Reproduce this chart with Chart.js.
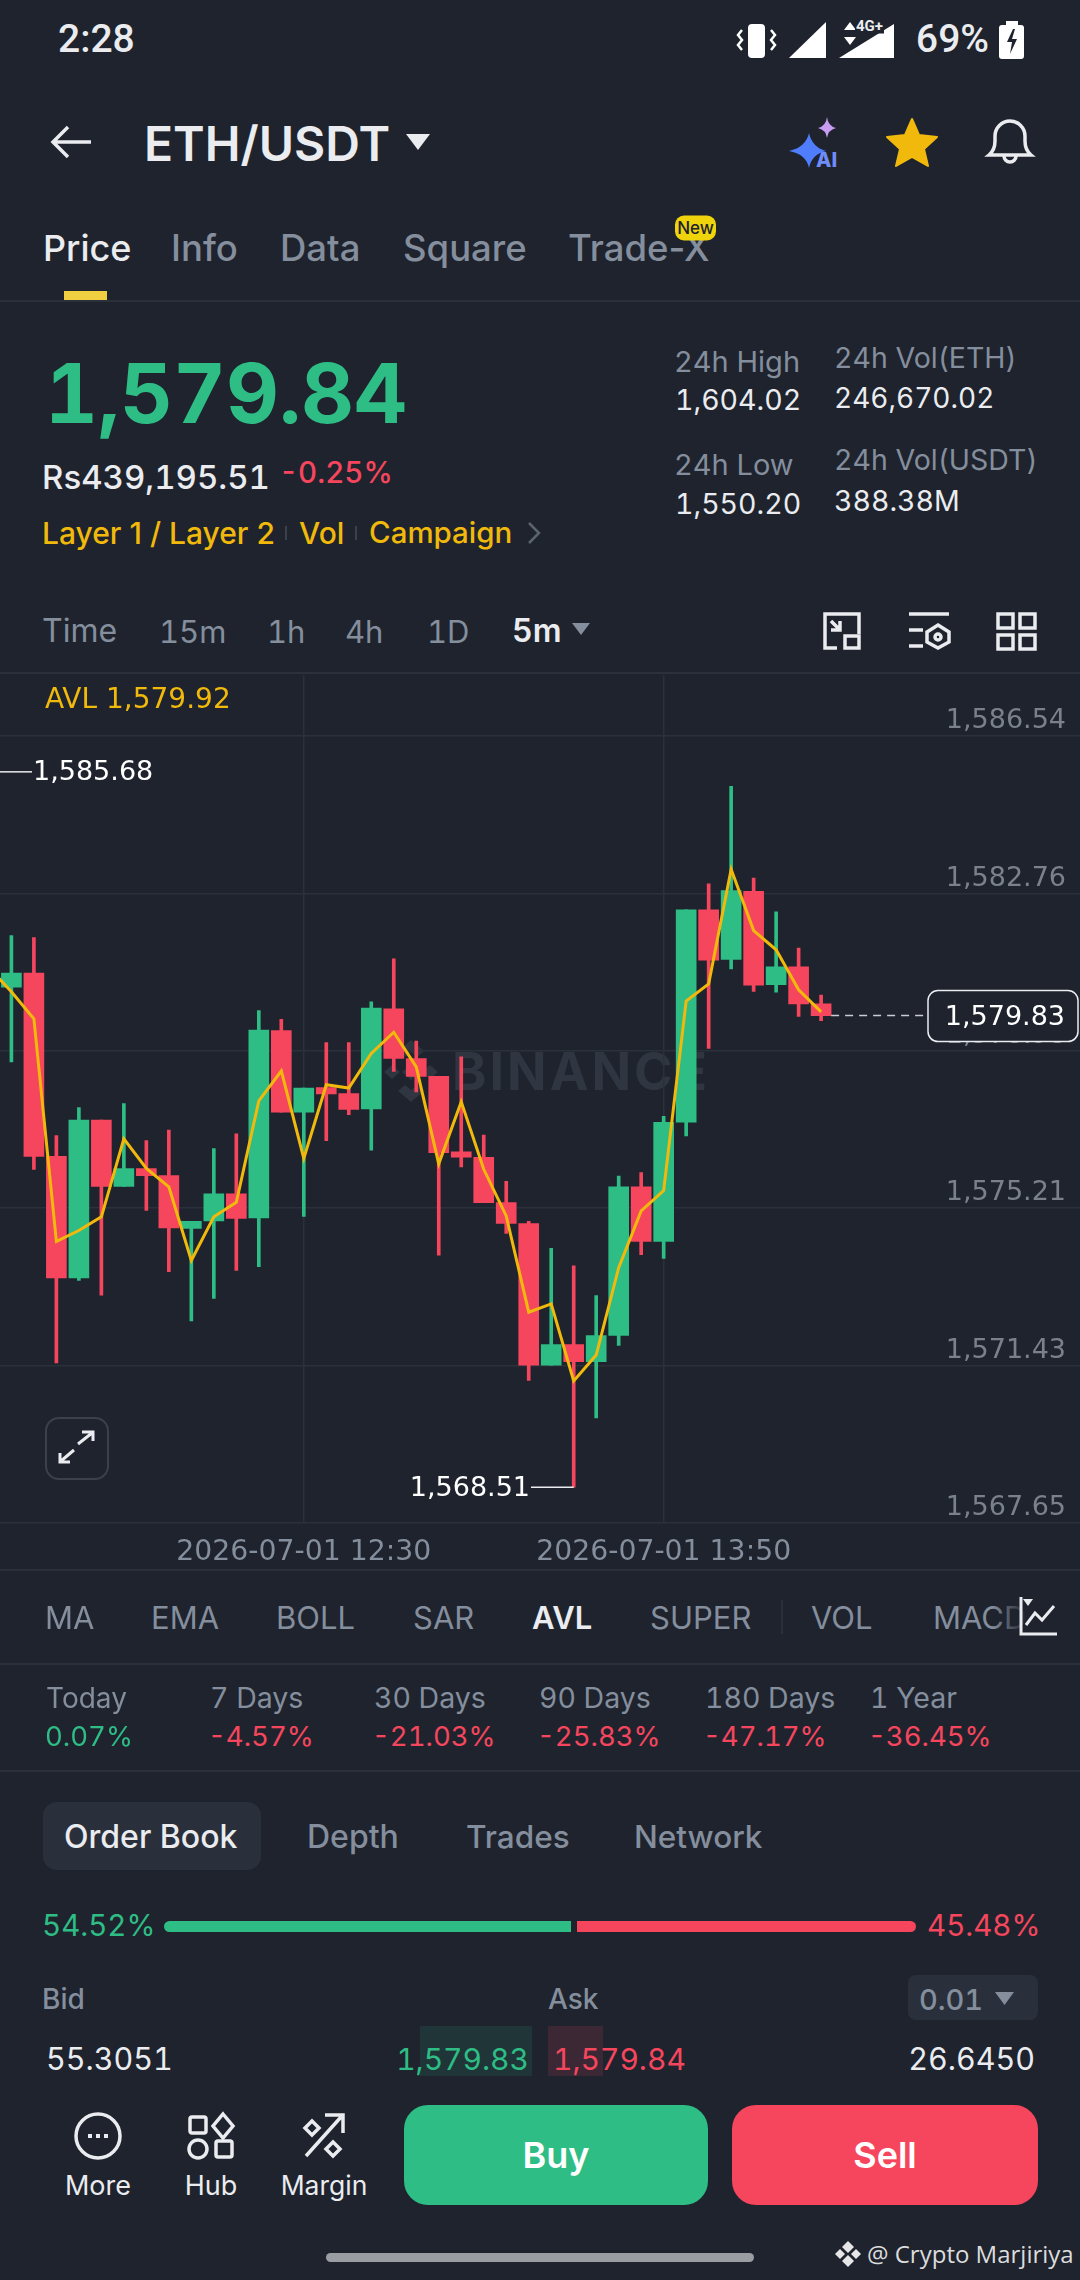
<!DOCTYPE html>
<html>
<head>
<meta charset="utf-8">
<title>ETH/USDT</title>
<script src="https://cdn.jsdelivr.net/npm/chart.js"></script>
<style>
    html, body { margin: 0; background: #1e232e; }
    #app { position: relative; width: 1080px; height: 2280px; overflow: hidden; background: #1e232e; font-family: Inter, "Noto Sans", sans-serif; color: #eaecef; font-variant-numeric: tabular-nums; }
    .t { position: absolute; white-space: nowrap; line-height: 1; transform: translateY(-50%); }
    .r { transform: translate(-100%, -50%); }
    .c { transform: translate(-50%, -50%); }
    .g { color: #848e9c; }
    .up { color: #2ebd85; }
    .dn { color: #f6465d; }
    .y { color: #f0b90b; }
    .m { font-weight: 500; }
    .p { font-variant-numeric: normal; }
    .box { position: absolute; }
    .line { position: absolute; left: 0; width: 1080px; height: 2px; background: #2b313b; }
    svg { position: absolute; overflow: visible; }
    canvas { position: absolute; left: 0; top: 673px; }
</style>
</head>
<body>
<div id="app">
    <!-- status bar -->
    <div class="t m" style="left:58px;top:39px;font-size:39px;font-family:Roboto">2:28</div>
    <svg style="left:737px;top:22px" width="300" height="40" fill="#fff" stroke="none">
        <rect x="11" y="2" width="17" height="34" rx="4"/>
        <path d="M5 8l-4 5 4 5-4 5 4 5M34 8l4 5-4 5 4 5-4 5" fill="none" stroke="#fff" stroke-width="2.5"/>
        <polygon points="52,36 89,36 89,0"/>
        <polygon points="102,36 157,36 157,2"/>
        <polygon points="107,8 113,0 119,8"/><polygon points="107,15 113,23 119,15"/>
    </svg>
    <div class="t" style="left:855px;top:26px;font-size:15px;font-weight:700;font-family:Roboto;background:#1e232e;padding:0 1px">4G+</div>
    <div class="t m" style="left:916px;top:39px;font-size:39px;font-family:Roboto">69%</div>
    <svg style="left:999px;top:21px" width="26" height="38"><rect x="7" y="0" width="12" height="4" fill="#fff"/><rect y="4" width="25" height="34" rx="3" fill="#fff"/><path d="M14 8l-6 13h5l-2 12 7-15h-5l3-10z" fill="#1e232e"/></svg>

    <!-- header -->
    <svg style="left:50px;top:124px" width="42" height="36" fill="none" stroke="#eaecef" stroke-width="3.5"><path d="M41 18H3M18 3L3 18l15 15"/></svg>
    <div class="t" style="left:144px;top:144px;font-size:48px;font-weight:600">ETH/USDT</div>
    <svg style="left:406px;top:134px" width="24" height="16"><polygon points="0,0 24,0 12,16" fill="#eaecef"/></svg>
    <svg style="left:789px;top:117px" width="52" height="52">
        <path d="M20 16q3 14 17 18q-14 3-17 17q-3-14-20-17q17-4 20-18z" fill="#4f7dfb"/>
        <path d="M38 0q1 9 9 11q-8 2-9 10q-1-8-9-10q8-2 9-11z" fill="#c79cf2"/>
        <text x="27" y="50" font-size="20" font-weight="800" fill="#6f8cf7" font-family="Inter">AI</text>
    </svg>
    <svg style="left:887px;top:119px" width="50" height="47"><polygon points="25,0 32,16 50,18 37,30 41,47 25,38 9,47 13,30 0,18 18,16" fill="#f0b90b" stroke="#f0b90b" stroke-width="2" stroke-linejoin="round"/></svg>
    <svg style="left:987px;top:118px" width="46" height="48" fill="none" stroke="#eaecef" stroke-width="3.5"><path d="M2 37q6-5 6-14V18a15 15 0 0 1 30 0v5q0 9 6 14z"/><path d="M17 38a6 6 0 0 0 12 0"/></svg>

    <!-- tabs -->
    <div class="t m" style="left:43px;top:248px;font-size:36px">Price</div>
    <div class="t g m" style="left:171px;top:248px;font-size:36.5px">Info</div>
    <div class="t g m" style="left:280px;top:248px;font-size:36.5px">Data</div>
    <div class="t g m" style="left:403px;top:248px;font-size:36.5px">Square</div>
    <div class="t g m p" style="left:568px;top:248px;font-size:36.5px">Trade-X</div>
    <div class="t" style="left:675px;top:228px;width:41px;height:25px;line-height:25px;border-radius:9px;background:#f0d40b;color:#1e232e;font-size:17px;font-weight:500;text-align:center">New</div>
    <div class="box" style="left:64px;top:291px;width:43px;height:9px;background:#f0d040"></div>
    <div class="line" style="top:300px"></div>

    <!-- price block -->
    <div class="t up" style="left:45px;top:394px;font-size:82px;font-weight:700">1,579.84</div>
    <div class="t m" style="left:42px;top:477px;font-size:33px">Rs439,195.51</div>
    <div class="t dn m" style="left:279px;top:473px;font-size:29.5px">-0.25%</div>
    <div class="t y m p" style="left:42px;top:533px;font-size:30px">Layer 1 / Layer 2</div>
    <div class="t y m" style="left:299px;top:533px;font-size:30px">Vol</div>
    <div class="t y m" style="left:369px;top:533px;font-size:29.5px">Campaign</div>
    <div class="box" style="left:285px;top:526px;width:2px;height:14px;background:#3a414c"></div>
    <div class="box" style="left:355px;top:526px;width:2px;height:14px;background:#3a414c"></div>
    <svg style="left:527px;top:521px" width="14" height="24" fill="none" stroke="#5c6470" stroke-width="2.5"><path d="M2 2l10 10L2 22"/></svg>

    <div class="t g" style="left:674px;top:361px;font-size:29px">24h High</div>
    <div class="t" style="left:675px;top:400px;font-size:28.5px">1,604.02</div>
    <div class="t g" style="left:674px;top:464px;font-size:29px">24h Low</div>
    <div class="t" style="left:675px;top:504px;font-size:28.5px">1,550.20</div>
    <div class="t g" style="left:834px;top:358px;font-size:28.5px">24h Vol(ETH)</div>
    <div class="t" style="left:834px;top:398px;font-size:28px">246,670.02</div>
    <div class="t g" style="left:834px;top:460px;font-size:28.5px">24h Vol(USDT)</div>
    <div class="t" style="left:834px;top:501px;font-size:28.5px">388.38M</div>

    <!-- interval row -->
    <div class="t g" style="left:42px;top:631px;font-size:32px">Time</div>
    <div class="t g" style="left:159px;top:631px;font-size:31px">15m</div>
    <div class="t g" style="left:267px;top:631px;font-size:31px">1h</div>
    <div class="t g" style="left:345px;top:631px;font-size:31px">4h</div>
    <div class="t g" style="left:427px;top:631px;font-size:31px">1D</div>
    <div class="t" style="left:512px;top:631px;font-size:32px;font-weight:600">5m</div>
    <svg style="left:572px;top:623px" width="18" height="12"><polygon points="0,0 18,0 9,12" fill="#848e9c"/></svg>
    <svg style="left:823px;top:612px" width="212" height="38" fill="none" stroke="#eaecef" stroke-width="3.5">
        <path d="M14 36H2V2h34v20M8 9l9 9m0-9v9H8"/><rect x="22" y="24" width="14" height="12"/>
        <path d="M86 2h40M86 18h14M86 34h14"/><path d="M115 13l11 7v10l-11 6-11-6V20z"/><circle cx="115" cy="25" r="3"/>
        <rect x="175" y="2" width="15" height="14"/><rect x="197" y="2" width="15" height="14"/><rect x="175" y="23" width="15" height="14"/><rect x="197" y="23" width="15" height="14"/>
    </svg>
    <div class="line" style="top:672px"></div>

    <!-- chart -->
    <div class="t" style="left:452px;top:1072px;font-size:52px;font-weight:700;letter-spacing:3px;color:#2f3641">BINANCE</div>
    <svg style="left:384px;top:1040px" width="54" height="64" fill="#2f3641">
        <polygon points="27,0 40,11 33,17 27,12 21,17 14,11"/>
        <polygon points="27,52 40,41 33,35 27,40 21,35 14,41" transform="translate(0,10)"/>
        <polygon points="27,24 36,32 27,40 18,32"/>
        <polygon points="0,32 8,25 16,32 8,39"/><polygon points="38,32 46,25 54,32 46,39"/>
    </svg>
    <canvas id="chart" width="1080" height="896"></canvas>
    <div class="box" style="left:45px;top:1417px;width:60px;height:59px;border:2px solid #3a414c;border-radius:14px"></div>
    <svg style="left:58px;top:1430px" width="36" height="34" fill="none" stroke="#eaecef" stroke-width="3"><path d="M20 14L34 3M24 2h11v9M16 20L3 31M12 32H2v-9"/></svg>
    <div class="line" style="top:1569px"></div>

    <!-- indicators -->
    <div class="t g" style="left:45px;top:1617px;font-size:31px">MA</div>
    <div class="t g" style="left:151px;top:1617px;font-size:31px">EMA</div>
    <div class="t g" style="left:276px;top:1617px;font-size:31px">BOLL</div>
    <div class="t g" style="left:413px;top:1617px;font-size:31px">SAR</div>
    <div class="t" style="left:532px;top:1617px;font-size:31px;font-weight:600">AVL</div>
    <div class="t g" style="left:650px;top:1617px;font-size:31px">SUPER</div>
    <div class="box" style="left:781px;top:1600px;width:2px;height:34px;background:#2b313b"></div>
    <div class="t g" style="left:811px;top:1617px;font-size:31px">VOL</div>
    <div class="t g" style="left:933px;top:1617px;font-size:31px">MACD</div>
    <div class="box" style="left:992px;top:1596px;width:88px;height:42px;background:linear-gradient(90deg,rgba(30,35,46,0),#1e232e 40%)"></div>
    <svg style="left:1019px;top:1597px" width="38" height="40" fill="none" stroke="#eaecef" stroke-width="3"><path d="M2 0v37h36M7 28l9-12 7 7 12-14"/><polygon points="4,2 14,2 9,9" fill="#eaecef" stroke="none"/></svg>
    <div class="line" style="top:1663px"></div>

    <!-- performance -->
    <div class="t g" style="left:46px;top:1698px;font-size:28px">Today</div>
    <div class="t up" style="left:45px;top:1737px;font-size:27.5px">0.07%</div>
    <div class="t g" style="left:210px;top:1698px;font-size:28.5px">7 Days</div>
    <div class="t dn" style="left:208px;top:1737px;font-size:27.5px">-4.57%</div>
    <div class="t g" style="left:374px;top:1698px;font-size:28.5px">30 Days</div>
    <div class="t dn" style="left:372px;top:1737px;font-size:27.5px">-21.03%</div>
    <div class="t g" style="left:539px;top:1698px;font-size:28.5px">90 Days</div>
    <div class="t dn" style="left:537px;top:1737px;font-size:27.5px">-25.83%</div>
    <div class="t g" style="left:705px;top:1698px;font-size:28.5px">180 Days</div>
    <div class="t dn" style="left:703px;top:1737px;font-size:27.5px">-47.17%</div>
    <div class="t g" style="left:870px;top:1698px;font-size:28.5px">1 Year</div>
    <div class="t dn" style="left:868px;top:1737px;font-size:27.5px">-36.45%</div>
    <div class="line" style="top:1770px"></div>

    <!-- order book -->
    <div class="box" style="left:43px;top:1802px;width:218px;height:68px;border-radius:14px;background:#2a303b"></div>
    <div class="t m" style="left:64px;top:1837px;font-size:32px">Order Book</div>
    <div class="t g m" style="left:307px;top:1837px;font-size:32px">Depth</div>
    <div class="t g m" style="left:466px;top:1837px;font-size:31.5px">Trades</div>
    <div class="t g m" style="left:634px;top:1837px;font-size:31.5px">Network</div>

    <div class="t up" style="left:42px;top:1926px;font-size:29.5px">54.52%</div>
    <div class="box" style="left:164px;top:1921px;width:407px;height:11px;background:#2ebd85;border-radius:6px 0 0 6px"></div>
    <div class="box" style="left:577px;top:1921px;width:339px;height:11px;background:#f6465d;border-radius:0 6px 6px 0"></div>
    <div class="t dn" style="left:927px;top:1926px;font-size:29.5px">45.48%</div>

    <div class="t g m" style="left:42px;top:1999px;font-size:28px">Bid</div>
    <div class="t g m" style="left:548px;top:1999px;font-size:28px">Ask</div>
    <div class="box" style="left:908px;top:1975px;width:130px;height:45px;border-radius:8px;background:#2a303b"></div>
    <div class="t g m" style="left:919px;top:1999px;font-size:29px">0.01</div>
    <svg style="left:995px;top:1992px" width="19" height="13"><polygon points="0,0 19,0 9.5,13" fill="#848e9c"/></svg>

    <div class="box" style="left:420px;top:2026px;width:112px;height:50px;background:rgba(46,189,133,.12)"></div>
    <div class="box" style="left:548px;top:2026px;width:55px;height:50px;background:rgba(246,70,93,.14)"></div>
    <div class="t" style="left:46px;top:2059px;font-size:30.5px">55.3051</div>
    <div class="t up r" style="left:529px;top:2059px;font-size:30px">1,579.83</div>
    <div class="t dn" style="left:553px;top:2059px;font-size:30px">1,579.84</div>
    <div class="t r" style="left:1035px;top:2059px;font-size:30.5px">26.6450</div>

    <!-- bottom bar -->
    <div class="box" style="left:0;top:2086px;width:1080px;height:194px;background:#1e232e"></div>
    <svg style="left:74px;top:2112px" width="48" height="48" fill="none" stroke="#eaecef" stroke-width="3.5"><circle cx="24" cy="24" r="22"/><path d="M14 24h4M22 24h4M30 24h4" stroke-width="4"/></svg>
    <svg style="left:188px;top:2112px" width="46" height="48" fill="none" stroke="#eaecef" stroke-width="3.5"><rect x="2" y="5" width="16" height="16" rx="2"/><path d="M35 2l10 12-10 12-10-12z"/><circle cx="10" cy="37" r="9"/><rect x="28" y="29" width="16" height="16" rx="2"/></svg>
    <svg style="left:303px;top:2112px" width="42" height="48" fill="none" stroke="#eaecef" stroke-width="3.5"><path d="M3 44L38 5M22 3h18v18"/><path d="M9 9l7 7-7 7-7-7zM30 30l7 7-7 7-7-7z"/></svg>
    <div class="t c" style="left:98px;top:2185px;font-size:27px">More</div>
    <div class="t c" style="left:211px;top:2185px;font-size:27px">Hub</div>
    <div class="t c" style="left:324px;top:2185px;font-size:26.5px">Margin</div>
    <div class="box" style="left:404px;top:2105px;width:304px;height:100px;border-radius:24px;background:#2ebd85"></div>
    <div class="t c" style="left:556px;top:2155px;font-size:36px;font-weight:600;color:#fff">Buy</div>
    <div class="box" style="left:732px;top:2105px;width:306px;height:100px;border-radius:24px;background:#f6465d"></div>
    <div class="t c" style="left:885px;top:2155px;font-size:36px;font-weight:600;color:#fff">Sell</div>

    <div class="box" style="left:326px;top:2253px;width:428px;height:9px;border-radius:5px;background:#9a9ea3"></div>
    <svg style="left:835px;top:2241px" width="26" height="26" fill="#e6e6e6"><polygon points="13,0 19,6 13,12 7,6"/><polygon points="13,14 19,20 13,26 7,20"/><polygon points="0,13 5,8 10,13 5,18"/><polygon points="16,13 21,8 26,13 21,18"/></svg>
    <div class="t" style="left:867px;top:2254px;font-size:24px;color:#dcdcdc;font-family:'Open Sans'">@ Crypto Marjiriya</div>
</div>

<script>
    // 5m candles, left to right
    var opens = [1580.51, 1580.85, 1576.45, 1573.53, 1577.32, 1575.73, 1576.16, 1575.99, 1574.72, 1574.90, 1575.55, 1574.97, 1579.47, 1577.51, 1578.10, 1577.96, 1577.59, 1579.99, 1578.80, 1578.37, 1576.56, 1576.43, 1575.34, 1574.84, 1571.44, 1571.93, 1571.52, 1572.15, 1575.72, 1574.41, 1577.27, 1582.37, 1581.18, 1582.81, 1580.57, 1581.00, 1580.11];
    var closes = [1580.85, 1576.45, 1573.53, 1577.32, 1575.73, 1576.16, 1575.99, 1574.73, 1574.89, 1575.55, 1574.96, 1579.48, 1577.51, 1578.09, 1577.95, 1577.58, 1580.01, 1578.80, 1578.37, 1576.54, 1576.43, 1575.34, 1574.84, 1571.44, 1571.93, 1571.52, 1572.15, 1575.72, 1574.41, 1577.27, 1582.37, 1581.16, 1582.83, 1580.56, 1581.00, 1580.11, 1579.83];
    var highs = [1581.75, 1581.70, 1576.95, 1577.62, 1577.32, 1577.72, 1576.83, 1577.08, 1574.89, 1576.64, 1576.99, 1579.95, 1579.74, 1578.09, 1579.18, 1579.18, 1580.16, 1581.19, 1579.22, 1578.37, 1578.84, 1576.96, 1575.85, 1574.89, 1574.24, 1573.82, 1573.11, 1575.98, 1576.06, 1577.41, 1582.37, 1582.99, 1585.33, 1583.13, 1582.32, 1581.45, 1580.32];
    var lows = [1578.72, 1576.14, 1571.49, 1573.47, 1573.12, 1575.73, 1575.15, 1573.68, 1572.50, 1573.04, 1573.71, 1573.80, 1577.51, 1575.01, 1576.83, 1577.45, 1576.60, 1578.49, 1578.00, 1574.08, 1576.20, 1575.34, 1574.60, 1571.07, 1571.44, 1568.51, 1570.17, 1571.91, 1574.09, 1574.00, 1576.94, 1579.04, 1580.95, 1580.41, 1580.39, 1579.81, 1579.71];
    // AVL line, one leading point sits left of the visible window
    var avlValues = [1580.98, 1580.40, 1579.75, 1574.41, 1574.67, 1575.00, 1576.87, 1576.16, 1575.72, 1573.95, 1575.00, 1575.35, 1577.78, 1578.50, 1576.40, 1578.17, 1578.09, 1578.92, 1579.43, 1578.60, 1576.27, 1577.76, 1576.14, 1575.02, 1572.71, 1572.91, 1571.06, 1571.68, 1573.78, 1575.14, 1575.63, 1580.18, 1580.59, 1583.34, 1581.87, 1581.41, 1580.45, 1579.92];
    var priceTicks = [1586.54, 1582.76, 1578.98, 1575.21, 1571.43, 1567.65];
    var timeTickIndex = [13, 29];
    var timeTickLabels = ['2026-07-01 12:30', '2026-07-01 13:50'];

    var lastPrice = 1579.83;
    var shownHigh = 1585.68;
    var shownLow = 1568.51;
    var lowIndex = 25;
    var avlLast = 1579.92;

    var upColor = '#2ebd85';
    var downColor = '#f6465d';
    var candleColors = opens.map(function (o, i) { return closes[i] >= o ? upColor : downColor; });
    var chartFont = '"DejaVu Sans"';

    function money(v) {
        return v.toLocaleString('en-US', { minimumFractionDigits: 2, maximumFractionDigits: 2 });
    }

    // labels that sit on the price scale: last price box, shown high and low, AVL legend
    var priceMarks = {
        id: 'priceMarks',
        afterDatasetsDraw: function (chart) {
            var c = chart.ctx, x = chart.scales.x, y = chart.scales.y;
            c.save();
            c.textBaseline = 'middle';

            c.font = '28px ' + chartFont;
            c.fillStyle = '#f0b90b';
            c.textAlign = 'left';
            c.fillText('AVL ' + money(avlLast), 45, 28);

            c.font = '27px ' + chartFont;
            var py = y.getPixelForValue(lastPrice);
            c.strokeStyle = '#c9ccd1';
            c.lineWidth = 1.5;
            c.setLineDash([8, 6]);
            c.beginPath();
            c.moveTo(x.getPixelForValue(opens.length - 1) + 10, py);
            c.lineTo(928, py);
            c.stroke();
            c.setLineDash([]);

            c.beginPath();
            c.roundRect(928, py - 25, 150, 51, 10);
            c.fillStyle = '#1e232e';
            c.fill();
            c.strokeStyle = '#eaecef';
            c.stroke();
            c.fillStyle = '#ffffff';
            c.textAlign = 'right';
            c.fillText(money(lastPrice), 1065, py + 2);

            var hy = y.getPixelForValue(shownHigh);
            c.strokeStyle = '#eaecef';
            c.beginPath();
            c.moveTo(0, hy);
            c.lineTo(32, hy);
            c.stroke();
            c.textAlign = 'left';
            c.fillText(money(shownHigh), 33, hy + 1);

            var ly = y.getPixelForValue(shownLow);
            var lx = x.getPixelForValue(lowIndex);
            c.beginPath();
            c.moveTo(531, ly);
            c.lineTo(lx, ly);
            c.stroke();
            c.textAlign = 'right';
            c.fillText(money(shownLow), 530, ly + 2);
            c.restore();
        }
    };

    new Chart(document.getElementById('chart').getContext('2d'), {
        type: 'bar',
        data: {
            datasets: [
                {
                    type: 'line',
                    data: avlValues.map(function (v, i) { return { x: i - 1, y: v }; }),
                    borderColor: '#f0b90b',
                    borderWidth: 3,
                    pointRadius: 0,
                    tension: 0,
                    order: 0
                },
                {
                    data: opens.map(function (o, i) { return { x: i, y: [o, closes[i]] }; }),
                    backgroundColor: candleColors,
                    barThickness: 20,
                    grouped: false,
                    order: 1
                },
                {
                    data: lows.map(function (l, i) { return { x: i, y: [l, highs[i]] }; }),
                    backgroundColor: candleColors,
                    barThickness: 3,
                    grouped: false,
                    order: 2
                }
            ]
        },
        options: {
            responsive: false,
            animation: false,
            events: [],
            layout: { padding: 0 },
            plugins: { legend: { display: false }, tooltip: { enabled: false } },
            scales: {
                x: {
                    type: 'linear',
                    offset: false,
                    min: -0.507,
                    max: 47.51,
                    border: { display: false },
                    grid: { offset: false, color: '#2b313b', lineWidth: 1.5, drawTicks: false },
                    afterBuildTicks: function (axis) {
                        axis.ticks = timeTickIndex.map(function (v) { return { value: v }; });
                    },
                    afterFit: function (axis) { axis.height = 46; },
                    ticks: {
                        autoSkip: false,
                        maxRotation: 0,
                        padding: 13,
                        color: '#848e9c',
                        font: { family: chartFont, size: 28.3 },
                        callback: function (v) { return timeTickLabels[timeTickIndex.indexOf(v)]; }
                    }
                },
                y: {
                    position: 'right',
                    min: 1567.65,
                    max: 1588.0,
                    border: { display: false },
                    grid: { color: '#2b313b', lineWidth: 1.5, drawTicks: false },
                    afterBuildTicks: function (axis) {
                        axis.ticks = priceTicks.map(function (v) { return { value: v }; });
                    },
                    afterFit: function (axis) { axis.width = 0; },
                    ticks: {
                        mirror: true,
                        autoSkip: false,
                        padding: -14,
                        labelOffset: -15,
                        color: '#7a818c',
                        font: { family: chartFont, size: 27 },
                        callback: function (v) { return money(v); }
                    }
                }
            }
        },
        plugins: [priceMarks]
    });
</script>
</body>
</html>
